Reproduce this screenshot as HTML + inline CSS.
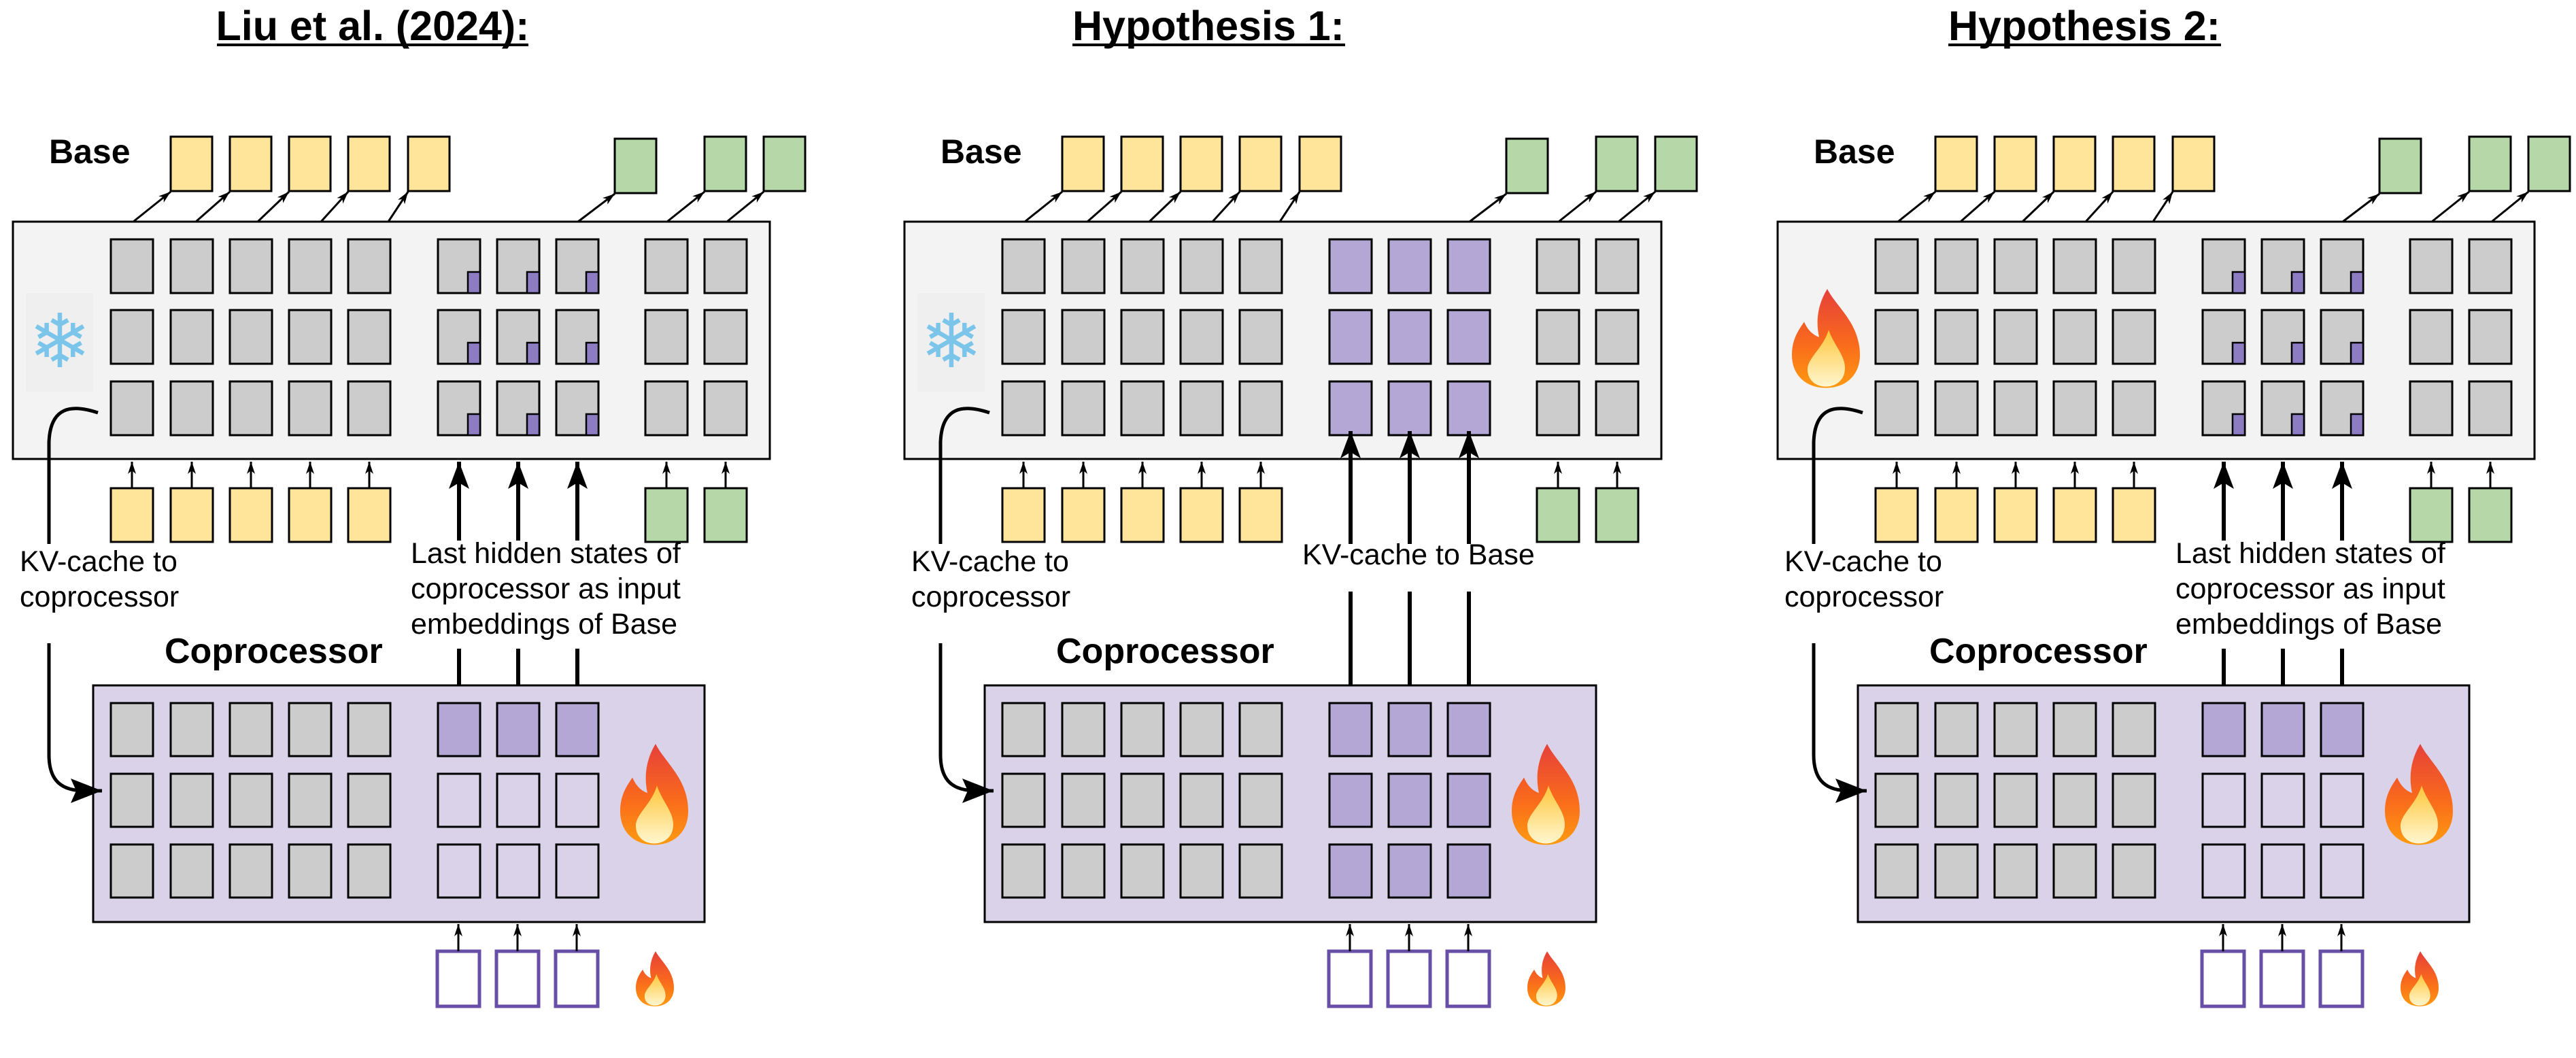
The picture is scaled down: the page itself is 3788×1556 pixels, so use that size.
<!DOCTYPE html>
<html><head><meta charset="utf-8"><style>
html,body{margin:0;padding:0;background:#fff;}
svg{display:block;}
text{font-family:"Liberation Sans",Arial,sans-serif;}
.t{font-weight:bold;font-size:61px;}
.b{font-weight:bold;font-size:50px;}
.c{font-weight:bold;font-size:52px;}
.r{font-size:43px;}
</style></head><body>
<svg id="s" width="3788" height="1556" viewBox="0 0 3788 1556" xmlns="http://www.w3.org/2000/svg">
<defs>
<marker id="at" markerUnits="userSpaceOnUse" markerWidth="20" markerHeight="24" refX="18" refY="8" orient="auto"><path d="M0,2 L18,8 L0,14 L5,8 Z" fill="#000"/></marker>
<marker id="ak" markerUnits="userSpaceOnUse" markerWidth="44" markerHeight="36" refX="40" refY="16" orient="auto"><path d="M0,1 L40,16 L0,31 L9,16 Z" fill="#000"/></marker>
<marker id="ac" markerUnits="userSpaceOnUse" markerWidth="50" markerHeight="44" refX="46" refY="20" orient="auto"><path d="M0,2 L46,20 L0,38 L8,20 Z" fill="#000"/></marker>
<linearGradient id="fo" x1="0" y1="0" x2="0" y2="1"><stop offset="0" stop-color="#e6403a"/><stop offset="0.55" stop-color="#f96a1c"/><stop offset="1" stop-color="#ff9a10"/></linearGradient>
<linearGradient id="fi" x1="0" y1="0" x2="0" y2="1"><stop offset="0" stop-color="#ffc63a"/><stop offset="1" stop-color="#fff6cf"/></linearGradient>
<g id="flame">
<path d="M52 0 C66 28 100 52 100 100 C100 132 78 150 50 150 C22 150 0 132 0 100 C0 76 10 62 18 50 C24 64 32 70 40 73 C34 45 40 20 52 0 Z" fill="url(#fo)"/>
<path d="M54 62 C62 86 78 100 78 120 C78 138 65 148 50 148 C35 148 23 138 23 122 C23 104 46 90 54 62 Z" fill="url(#fi)"/>
</g>
</defs>
<g id="shapes"></g>
<text class="t" x="548" y="59" text-anchor="middle">Liu et al. (2024):</text>
<text class="t" x="1777" y="59" text-anchor="middle">Hypothesis 1:</text>
<text class="t" x="3065" y="59" text-anchor="middle">Hypothesis 2:</text>
<rect x="319" y="64" width="458" height="4"/>
<rect x="1577" y="64" width="401" height="4"/>
<rect x="2865" y="64" width="401" height="4"/>
<text class="b" x="72" y="240">Base</text>
<text class="c" x="242" y="975">Coprocessor</text>
<text class="r" x="29" y="840">KV-cache to</text>
<text class="r" x="29" y="892">coprocessor</text>
<text class="r" x="604" y="828">Last hidden states of</text>
<text class="r" x="604" y="880">coprocessor as input</text>
<text class="r" x="604" y="932">embeddings of Base</text>
<text class="b" x="1383" y="240">Base</text>
<text class="c" x="1553" y="975">Coprocessor</text>
<text class="r" x="1340" y="840">KV-cache to</text>
<text class="r" x="1340" y="892">coprocessor</text>
<text class="r" x="1915" y="830">KV-cache to Base</text>
<text class="b" x="2667" y="240">Base</text>
<text class="c" x="2837" y="975">Coprocessor</text>
<text class="r" x="2624" y="840">KV-cache to</text>
<text class="r" x="2624" y="892">coprocessor</text>
<text class="r" x="3199" y="828">Last hidden states of</text>
<text class="r" x="3199" y="880">coprocessor as input</text>
<text class="r" x="3199" y="932">embeddings of Base</text>
</svg>
<script>
(function(){
var NS="http://www.w3.org/2000/svg",g=document.getElementById("shapes");
function el(n,a){var e=document.createElementNS(NS,n);for(var k in a)e.setAttribute(k,a[k]);g.appendChild(e);return e;}
function R(x,y,w,h,f,s,sw){return el("rect",{x:x,y:y,width:w,height:h,fill:f,stroke:s||"#000","stroke-width":sw||3});}
function L(d,sw,m){var a={d:d,fill:"none",stroke:"#000","stroke-width":sw};if(m)a["marker-end"]="url(#"+m+")";return el("path",a);}
var GR="#cccccc",PU="#b4a7d6",LP="#d9d2e9",YE="#ffe599",GN="#b6d7a8",MK="#8e7cc3";
var cols=[163,251,338,425,512,644,731,818,949,1036],W=62;
var by=[352,456,561],cy=[1034,1138,1242];
[0,1311,2595].forEach(function(dx,t){
 R(19+dx,326,1113,349,"#f3f3f3");
 [251,338,425,512,600].forEach(function(x,i){R(x+dx,201,61,80,YE);var sx=[196,288,379,472,571][i];L("M"+(sx+dx)+" 326 L"+(x+dx)+" 282",3,"at");});
 [[904,204,850],[1036,201,981],[1123,201,1069]].forEach(function(a){R(a[0]+dx,a[1],61,80,GN);L("M"+(a[2]+dx)+" 326 L"+(a[0]+dx)+" "+(a[1]+81),3,"at");});
 cols.forEach(function(x,ci){by.forEach(function(y){
  var mid=ci>=5&&ci<=7;
  R(x+dx,y,W,79,(mid&&t==1)?PU:GR);
  if(mid&&t!=1)R(x+dx+44,y+48,18,31,MK,"#000",2.5);
 });});
 [0,1,2,3,4,8,9].forEach(function(ci){var x=cols[ci]+dx;R(x,718,W,79,ci<5?YE:GN);L("M"+(x+31)+" 718 L"+(x+31)+" 679",3,"at");});
 [675,762,849].forEach(function(x){x+=dx;
  if(t==1){L("M"+x+" 1034 L"+x+" 870",6);L("M"+x+" 800 L"+x+" 634",6,"ak");}
  else{L("M"+x+" 795 L"+x+" 679",6,"ak");L("M"+x+" 954 L"+x+" 1034",6);}
 });
 R(137+dx,1008,899,348,LP);
 for(var ci=0;ci<8;ci++){cy.forEach(function(y,ri){
  var f=ci<5?GR:((ri==0||t==1)?PU:LP);R(cols[ci]+dx,y,W,78,f);
 });}
 [643,730,817].forEach(function(x){x+=dx;R(x,1399,62,81,"#fff","#674ea7",5);L("M"+(x+31)+" 1399 L"+(x+31)+" 1359",3,"at");});
 if(t<2){R(38+dx,431,99,145,"#efefef","none",0);
  var s=el("text",{x:88+dx,y:540,"font-size":"110","text-anchor":"middle",fill:"#7cc5ea","font-family":"DejaVu Sans"});s.textContent="\u2744";}
 else{el("use",{href:"#flame",transform:"translate("+(40+dx)+",425) scale(1,0.97)"});}
 el("use",{href:"#flame",transform:"translate("+(912+dx)+",1094) scale(1,0.99)"});
 el("use",{href:"#flame",transform:"translate("+(935+dx)+",1399) scale(0.56,0.54)"});
 L("M"+(144+dx)+" 607 C"+(105+dx)+" 594 "+(74+dx)+" 598 "+(72+dx)+" 650 L"+(72+dx)+" 800",5);
 L("M"+(72+dx)+" 946 L"+(72+dx)+" 1110 C"+(72+dx)+" 1150 "+(92+dx)+" 1163 "+(125+dx)+" 1163 L"+(150+dx)+" 1163",5,"ac");
});
})();
</script>
</body></html>
